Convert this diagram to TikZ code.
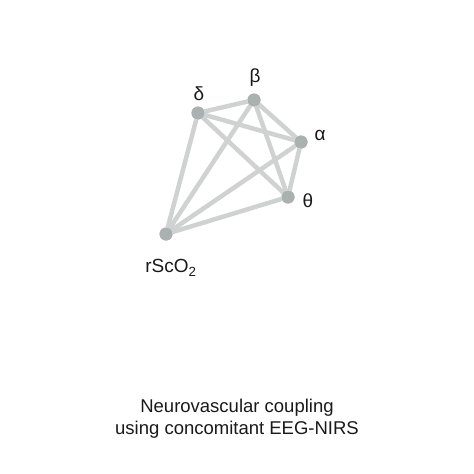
\documentclass[tikz,border=0pt]{standalone}
\usepackage{fontspec}
\setmainfont{Liberation Sans}
\definecolor{edgec}{RGB}{208,210,210}
\definecolor{nodec}{RGB}{170,177,176}
\begin{document}
\begin{tikzpicture}[x=1pt,y=-1pt,
  vtx/.style={circle,fill=nodec,minimum size=13pt,inner sep=0pt},
  lbl/.style={font=\fontsize{19}{22}\selectfont,text=black!90},
  edge/.style={draw=edgec,line width=4.5pt}]
\useasboundingbox (0,0) rectangle (474,474);
\node[vtx] (d) at (198,113) {};
\node[vtx] (b) at (254,100) {};
\node[vtx] (a) at (301,142) {};
\node[vtx] (t) at (288,197) {};
\node[vtx] (r) at (166,234) {};
\foreach \u/\v in {d/b,d/a,d/t,d/r,b/a,b/t,b/r,a/t,a/r,t/r}
  \draw[edge] (\u) -- (\v);
\node[vtx] at (d) {};
\node[vtx] at (b) {};
\node[vtx] at (a) {};
\node[vtx] at (t) {};
\node[vtx] at (r) {};
\node[lbl] (ld) at (199,94) {δ};
\node[lbl] (lb) at (255,78) {β};
\node[lbl] (la) at (320,135) {α};
\node[lbl] (lt) at (308,201) {θ};
\node[lbl] (lr) at (171,268) {rScO\textsubscript{2}};
\node[lbl,align=center,font=\fontsize{18.5}{22}\selectfont] (cap) at (237,419) {Neurovascular coupling\\using concomitant EEG-NIRS};
\end{tikzpicture}
\end{document}
